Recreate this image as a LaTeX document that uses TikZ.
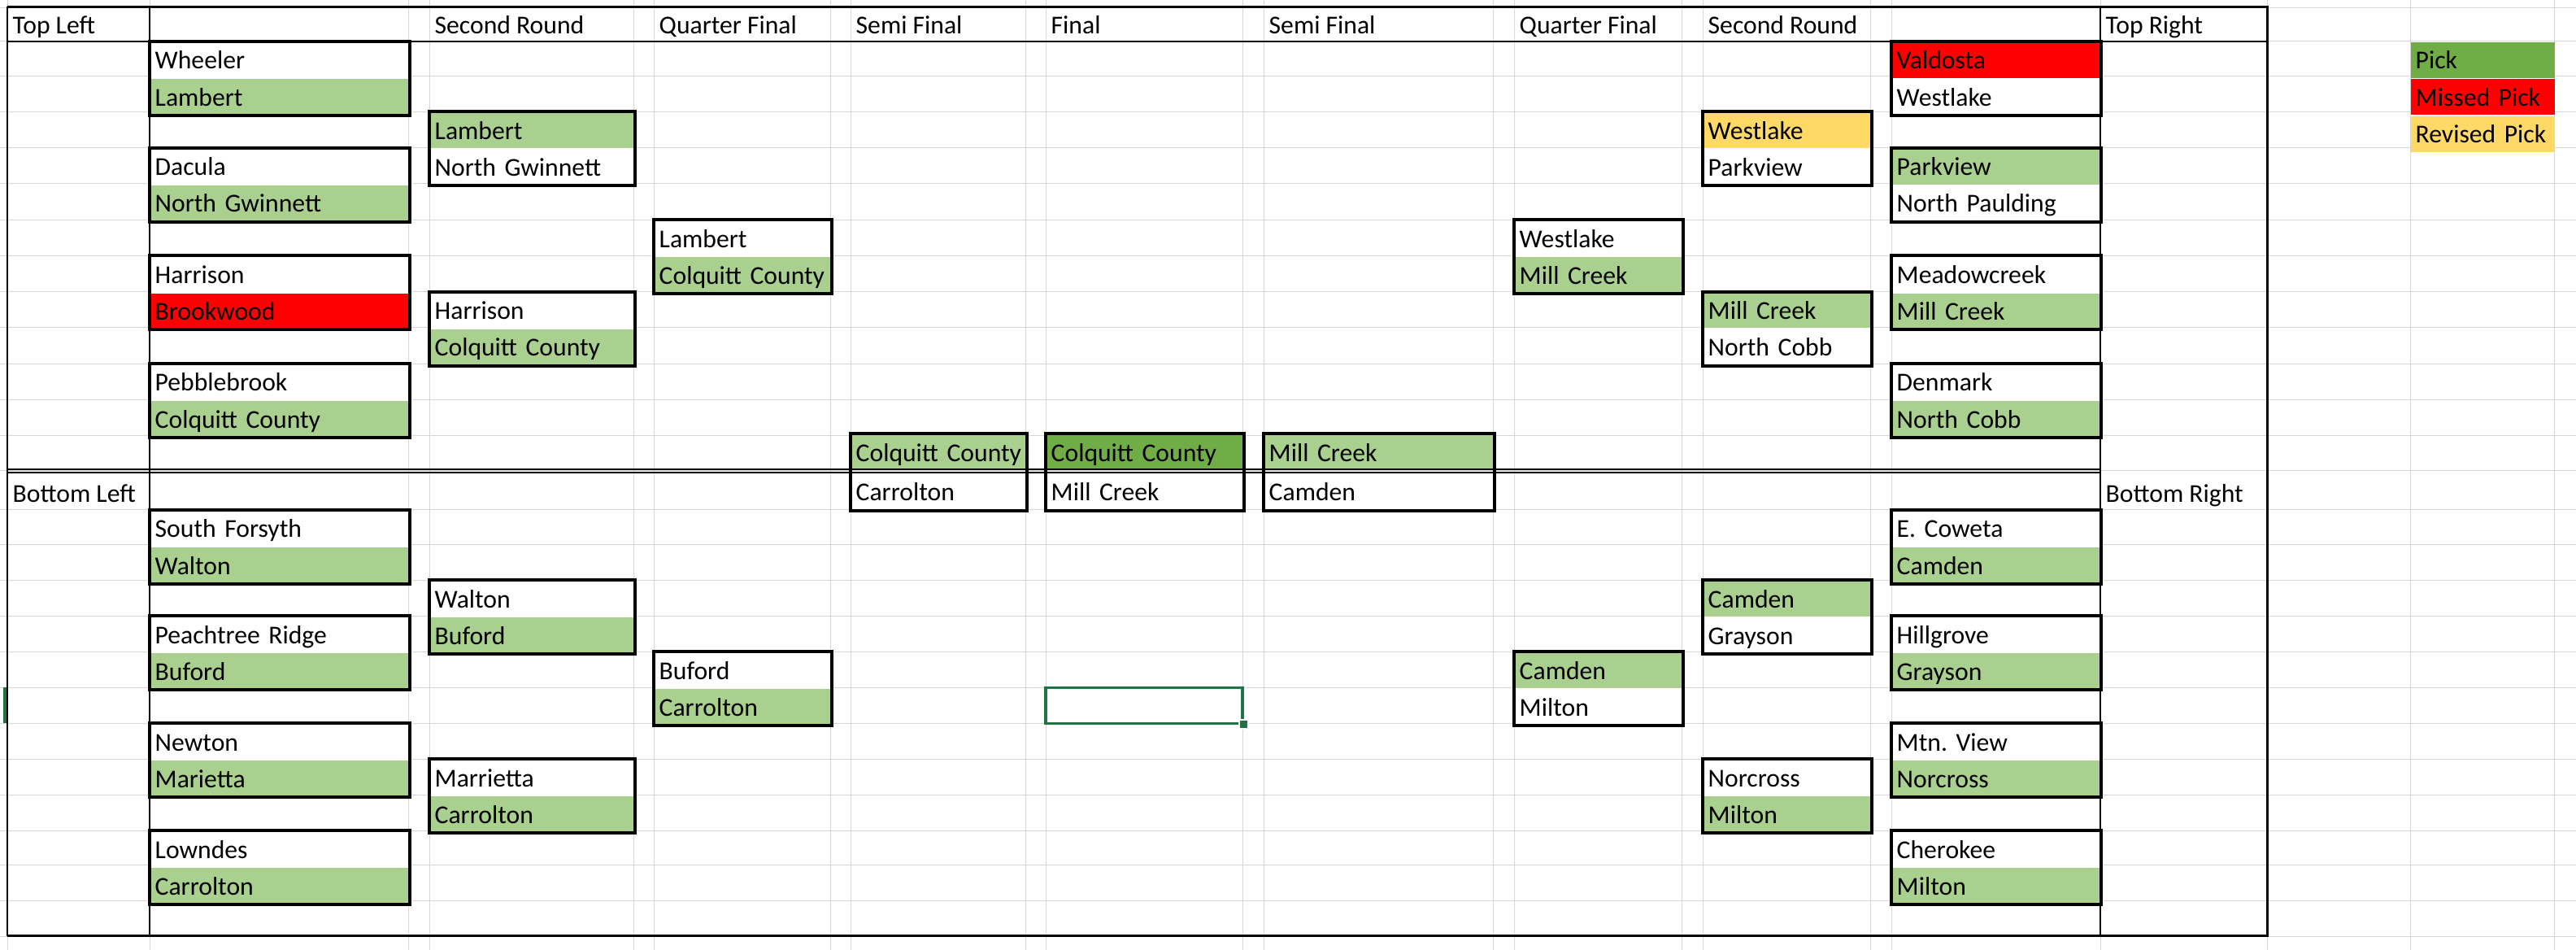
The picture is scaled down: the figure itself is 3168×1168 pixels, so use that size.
\documentclass[tikz,border=0pt]{standalone}
\usepackage{fontspec}
\setmainfont{Carlito}
\usepackage{tikz}
\usetikzlibrary{positioning}
\definecolor{lightgreen}{HTML}{A9D08E}
\definecolor{pickgreen}{HTML}{70AD47}
\definecolor{missred}{HTML}{FF0000}
\definecolor{revised}{HTML}{FFD966}
\definecolor{gridgray}{HTML}{D6D6D6}
\definecolor{selgreen}{HTML}{217346}
\newcommand{\cellfont}{\fontsize{9}{11}\selectfont\frenchspacing}
% one match: #1 name, #2 column, #3 top left corner, #4/#5 top team, #6/#7 bottom team
\newcommand{\game}[7]{%
  \node[team, #2, fill=#4, anchor=north west] (#1a) at #3 {\mbox{#5}};
  \node[team, #2, fill=#6, below=0pt of #1a] (#1b) {\mbox{#7}};
  \draw[box] (#1a.north west) rectangle (#1b.south east);
}

\begin{document}
\begin{tikzpicture}[x=0.01cm, y=-0.01cm,
  team/.style = {inner xsep=0pt, inner ysep=0pt, text height=0.33cm, text depth=0.11cm, align=left, font=\cellfont, execute at begin node={\hspace*{0.06cm}}},
  headtext/.style = {anchor=base west, inner sep=0pt, font=\cellfont},
  box/.style = {draw=black, line width=0.04cm},
  frame/.style = {draw=black, line width=0.018cm},
  gridline/.style = {draw=gridgray, line width=0.01cm},
  colB/.style = {text width=3.18cm},
  colD/.style = {text width=2.51cm},
  colF/.style = {text width=2.17cm},
  colH/.style = {text width=2.15cm},
  colJ/.style = {text width=2.42cm},
  colL/.style = {text width=2.82cm},
  colN/.style = {text width=2.06cm},
  colP/.style = {text width=2.06cm},
  colR/.style = {text width=2.566cm}
  ]

\useasboundingbox (0,0) rectangle (3168,1168);
\fill[white] (0,0) rectangle (3168,1168);

% Sheet grid
\foreach \gx in {9,184,502,528,779,804,1021,1046,1261,1286,1528,1554,1836,1862,2068,2094,2300,2326,2583,2788,2964,3141}
  \draw[gridline] (\gx,0) -- (\gx,1168);
\foreach \gy in {9.3,51,93.3,137.5,181.8,226,270.3,314.5,358.7,403,447.2,491.5,535.7,579,627,669.3,713.3,757.3,801.3,845.3,889.3,933.3,977.3,1021.3,1063.3,1107.3,1151.3}
  \draw[gridline] (0,\gy) -- (3168,\gy);

% Header row
\node[headtext] (hTopLeft) at (15,42) {Top Left};
\node[headtext] (hSecondL) at (534,42) {Second Round};
\node[headtext] (hQuarterL) at (810,42) {Quarter Final};
\node[headtext] (hSemiL) at (1052,42) {Semi Final};
\node[headtext] (hFinal) at (1292,42) {Final};
\node[headtext] (hSemiR) at (1560,42) {Semi Final};
\node[headtext] (hQuarterR) at (1868,42) {Quarter Final};
\node[headtext] (hSecondR) at (2100,42) {Second Round};
\node[headtext] (hTopRight) at (2589,42) {Top Right};
\node[headtext] (hBottomLeft) at (15,617.5) {Bottom Left};
\node[headtext] (hBottomRight) at (2589,617.5) {Bottom Right};

% Top left
\game{tlA}{colB}{(184,51)}{white}{Wheeler}{lightgreen}{Lambert}
\game{tlB}{colB}{(184,181.8)}{white}{Dacula}{lightgreen}{North Gwinnett}
\game{tlC}{colB}{(184,314.5)}{white}{Harrison}{missred}{Brookwood}
\game{tlD}{colB}{(184,447.2)}{white}{Pebblebrook}{lightgreen}{Colquitt County}
\game{tlE}{colD}{(528,137.5)}{lightgreen}{Lambert}{white}{North Gwinnett}
\game{tlF}{colD}{(528,358.7)}{white}{Harrison}{lightgreen}{Colquitt County}
\game{tlG}{colF}{(804,270.3)}{white}{Lambert}{lightgreen}{Colquitt County}

% Bottom left
\game{blA}{colB}{(184,627)}{white}{South Forsyth}{lightgreen}{Walton}
\game{blB}{colB}{(184,757.3)}{white}{Peachtree Ridge}{lightgreen}{Buford}
\game{blC}{colB}{(184,889.3)}{white}{Newton}{lightgreen}{Marietta}
\game{blD}{colB}{(184,1021.3)}{white}{Lowndes}{lightgreen}{Carrolton}
\game{blE}{colD}{(528,713.3)}{white}{Walton}{lightgreen}{Buford}
\game{blF}{colD}{(528,933.3)}{white}{Marrietta}{lightgreen}{Carrolton}
\game{blG}{colF}{(804,801.3)}{white}{Buford}{lightgreen}{Carrolton}

% Top right
\game{trA}{colR}{(2326,51)}{missred}{Valdosta}{white}{Westlake}
\game{trB}{colR}{(2326,181.8)}{lightgreen}{Parkview}{white}{North Paulding}
\game{trC}{colR}{(2326,314.5)}{white}{Meadowcreek}{lightgreen}{Mill Creek}
\game{trD}{colR}{(2326,447.2)}{white}{Denmark}{lightgreen}{North Cobb}
\game{trE}{colP}{(2094,137.5)}{revised}{Westlake}{white}{Parkview}
\game{trF}{colP}{(2094,358.7)}{lightgreen}{Mill Creek}{white}{North Cobb}
\game{trG}{colN}{(1862,270.3)}{white}{Westlake}{lightgreen}{Mill Creek}

% Bottom right
\game{brA}{colR}{(2326,627)}{white}{E. Coweta}{lightgreen}{Camden}
\game{brB}{colR}{(2326,757.3)}{white}{Hillgrove}{lightgreen}{Grayson}
\game{brC}{colR}{(2326,889.3)}{white}{Mtn. View}{lightgreen}{Norcross}
\game{brD}{colR}{(2326,1021.3)}{white}{Cherokee}{lightgreen}{Milton}
\game{brE}{colP}{(2094,713.3)}{lightgreen}{Camden}{white}{Grayson}
\game{brF}{colP}{(2094,933.3)}{white}{Norcross}{lightgreen}{Milton}
\game{brG}{colN}{(1862,801.3)}{lightgreen}{Camden}{white}{Milton}

% Semi finals and final, across the split
\node[team, colH, fill=lightgreen, anchor=north west] (sfLa) at (1046,533.3) {\mbox{Colquitt County}};
\node[team, colH, fill=white, below=0.035cm of sfLa] (sfLb) {\mbox{Carrolton}};
\draw[box] (sfLa.north west) rectangle (sfLb.south east);
\node[team, colJ, fill=pickgreen, anchor=north west] (fina) at (1286,533.3) {\mbox{Colquitt County}};
\node[team, colJ, fill=white, below=0.035cm of fina] (finb) {\mbox{Mill Creek}};
\draw[box] (fina.north west) rectangle (finb.south east);
\node[team, colL, fill=lightgreen, anchor=north west] (sfRa) at (1554,533.3) {\mbox{Mill Creek}};
\node[team, colL, fill=white, below=0.035cm of sfRa] (sfRb) {\mbox{Camden}};
\draw[box] (sfRa.north west) rectangle (sfRb.south east);

% Legend
\node[team, text width=1.77cm, fill=pickgreen, anchor=north west] (lgPick) at (2964,51) {Pick};
\node[team, text width=1.77cm, fill=missred, below=0pt of lgPick] (lgMissed) {Missed Pick};
\node[team, text width=1.77cm, fill=revised, below=0pt of lgMissed] (lgRevised) {Revised Pick};

% Outer frame and splits
\draw[draw=black, line width=0.03cm] (9,8.3) -- (2788,8.3) -- (2788,1151) -- (9,1151);
\draw[frame] (9,8.3) -- (9,1151);
\draw[frame] (9,51) -- (2788,51);
\draw[frame] (184,8.3) -- (184,1151);
\draw[frame] (2583,8.3) -- (2583,1151);
\draw[frame, line width=0.015cm] (9,577) -- (2583,577) (9,581) -- (2583,581);

% Selected cell
\draw[draw=selgreen, line width=0.033cm] (1286,845.3) rectangle (1528,889.3);
\fill[white] (1523,884.5) rectangle (1535.5,897);
\fill[selgreen] (1525,886.5) rectangle (1533.5,895);
\fill[selgreen] (4,845.3) rectangle (8,889.3);
\end{tikzpicture}
\end{document}
